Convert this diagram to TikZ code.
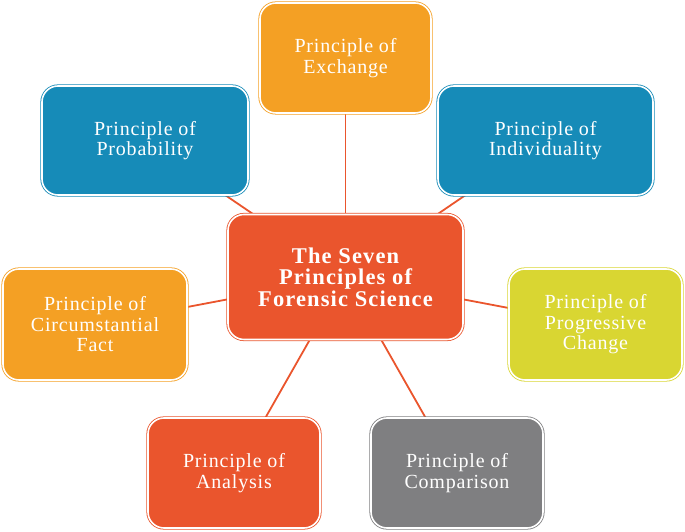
\documentclass[tikz,border=0pt]{standalone}
\usepackage{fontspec}
\setmainfont{Liberation Serif}
\newfontfamily\boxfont[LetterSpace=4]{Liberation Serif}
\newfontfamily\centfont[LetterSpace=5]{Liberation Serif}
\usetikzlibrary{backgrounds}
\definecolor{corange}{HTML}{F4A024}
\definecolor{cblue}{HTML}{168BB8}
\definecolor{cred}{HTML}{EA552D}
\definecolor{cyellow}{HTML}{D9D632}
\definecolor{cgray}{HTML}{7F7F81}
\tikzset{
  pbox/.style={rounded corners=16pt, draw=#1, fill=#1, double=white, double distance=1.6pt, line width=0.8pt,
    text=white, align=center, font=\boxfont\fontsize{20}{20.5}\selectfont, inner sep=2pt, outer sep=0pt},
  link/.style={draw=cred, line width=1.8pt}
}
\begin{document}
\begin{tikzpicture}[x=1pt,y=1pt]
\useasboundingbox (0,0) rectangle (685,532);
\node[pbox=cred, minimum width=235pt, minimum height=125pt, font=\centfont\bfseries\fontsize{22.5}{21.5}\selectfont] (c) at (345.5,255) {The Seven\\Principles of\\Forensic Science};
\node[pbox=corange, minimum width=171pt, minimum height=110pt] (ex) at (345.5,474) {Principle of\\Exchange};
\node[pbox=cblue, minimum width=206pt, minimum height=109pt] (pr) at (145,391.5) {Principle of\\Probability};
\node[pbox=cblue, minimum width=215pt, minimum height=109pt] (in) at (545.5,391.5) {Principle of\\Individuality};
\node[pbox=corange, minimum width=184pt, minimum height=111pt] (ci) at (95,207.5) {Principle of\\Circumstantial\\Fact};
\node[pbox=cyellow, minimum width=173pt, minimum height=111pt] (pg) at (595.5,207.5) {Principle of\\Progressive\\Change};
\node[pbox=cred, minimum width=172pt, minimum height=110pt] (an) at (234,59) {Principle of\\Analysis};
\node[pbox=cgray, minimum width=172pt, minimum height=110pt] (co) at (457,59) {Principle of\\Comparison};
\begin{scope}[on background layer]
\foreach \n in {ex,pr,in,ci,pg,an,co} \draw[link] (c.center) -- (\n.center);
\end{scope}
\end{tikzpicture}
\end{document}
